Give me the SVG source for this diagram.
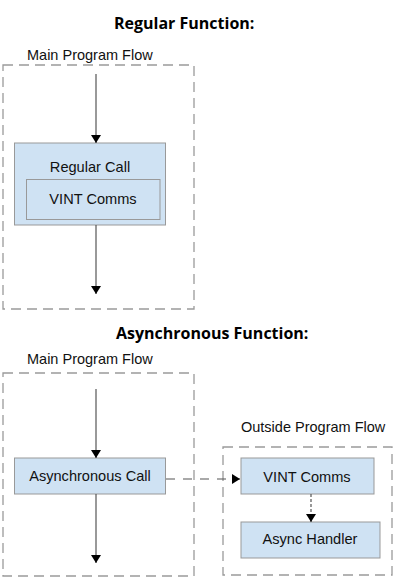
<svg xmlns="http://www.w3.org/2000/svg" width="400" height="587" viewBox="0 0 400 587">
<style>
.title{font-family:"Open Sans",sans-serif;font-weight:bold;font-size:16px;fill:#000}
.lbl{font-family:"Liberation Sans",Arial,sans-serif;font-size:14.5px;fill:#111}
.nt{font-family:"Liberation Sans",Arial,sans-serif;font-size:14.6px;fill:#111;text-anchor:middle}
.grp{fill:none;stroke:#9a9a9a;stroke-width:1.3;stroke-dasharray:10,6}
.node{fill:#cfe2f3;stroke:#999;stroke-width:1}
.ln{fill:none;stroke:#555;stroke-width:1.2}
</style>
<defs>
<marker id="ah" markerWidth="8" markerHeight="10" refX="8" refY="5" orient="auto" markerUnits="userSpaceOnUse">
<path d="M0,0 L8,5 L0,10 Z" fill="#000"/>
</marker>
</defs>
<rect width="400" height="587" fill="#fff"/>
<text class="title" x="114" y="29">Regular Function:</text>
<text class="title" x="116" y="339">Asynchronous Function:</text>

<g id="main-flow-1">
<text class="lbl" x="27" y="60">Main Program Flow</text>
<rect class="grp" x="3" y="65" width="191" height="244"/>
</g>
<g id="regular-call">
<rect class="node" x="14.5" y="143" width="151" height="82"/>
<text class="nt" x="90" y="172">Regular Call</text>
</g>
<g id="vint-comms-1">
<rect class="node" x="26.5" y="179.5" width="133.5" height="40"/>
<text class="nt" x="93" y="204">VINT Comms</text>
</g>

<g id="main-flow-2">
<text class="lbl" x="27" y="364">Main Program Flow</text>
<rect class="grp" x="3" y="373" width="191" height="203"/>
</g>
<g id="async-call">
<rect class="node" x="14.5" y="458" width="151" height="36"/>
<text class="nt" x="90" y="481">Asynchronous Call</text>
</g>

<g id="outside-flow">
<text class="lbl" x="241" y="432">Outside Program Flow</text>
<rect class="grp" x="223" y="447" width="169" height="128"/>
</g>
<g id="vint-comms-2">
<rect class="node" x="241" y="458" width="133" height="36"/>
<text class="nt" x="307" y="482">VINT Comms</text>
</g>
<g id="async-handler">
<rect class="node" x="241" y="522" width="139" height="36"/>
<text class="nt" x="310" y="544">Async Handler</text>
</g>

<g id="connectors">
<line class="ln" x1="96" y1="74" x2="96" y2="143" marker-end="url(#ah)"/>
<line class="ln" x1="96" y1="225" x2="96" y2="294" marker-end="url(#ah)"/>
<line class="ln" x1="96" y1="389" x2="96" y2="458" marker-end="url(#ah)"/>
<line class="ln" x1="96" y1="494" x2="96" y2="563" marker-end="url(#ah)"/>
<line class="ln" x1="166" y1="479" x2="240" y2="479" stroke-dasharray="9,8" marker-end="url(#ah)"/>
<line class="ln" x1="311" y1="494" x2="311" y2="522" stroke-dasharray="3,2" marker-end="url(#ah)"/>
</g>
</svg>
